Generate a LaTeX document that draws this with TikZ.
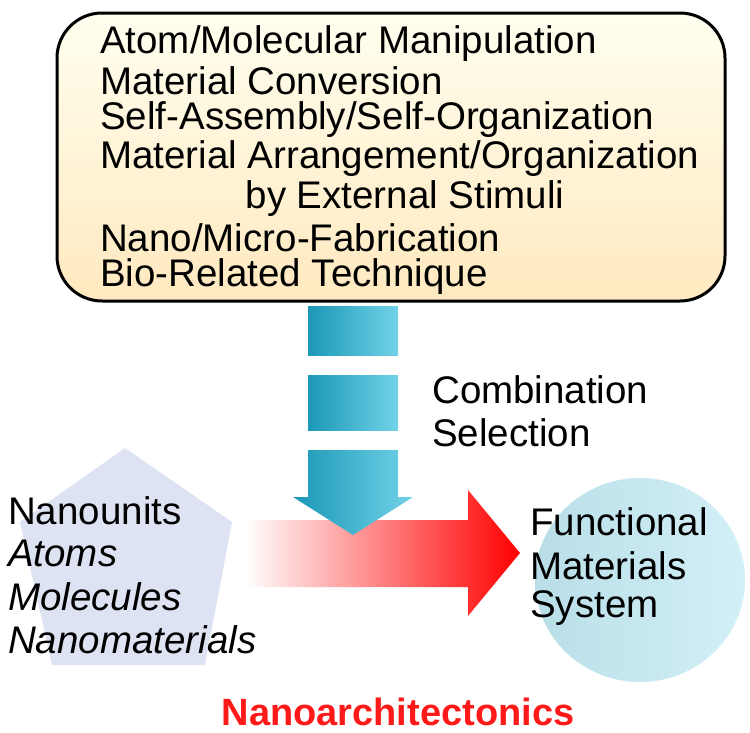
\documentclass[tikz,border=0pt]{standalone}
\usepackage{fontspec}
\setmainfont{Liberation Sans}
\begin{document}
\begin{tikzpicture}[x=1pt,y=-1pt,
  txt/.style={anchor=west,font=\fontsize{38.5}{40}\selectfont,inner sep=0pt},
  bluefill/.style={left color=blue1,right color=blue2,draw=none}]
\definecolor{blue1}{HTML}{1A98B6}
\definecolor{blue2}{HTML}{72D2E8}
\definecolor{pent}{HTML}{DDE3F2}
\definecolor{ell1}{HTML}{B9DEE8}
\definecolor{ell2}{HTML}{D3F0F7}
\useasboundingbox (0,0) rectangle (750,732);
% pentagon
\fill[fill=pent] (125,448) coordinate (p1) -- (232,522) -- (205,665) -- (52,665) -- (20,522) -- cycle;
% ellipse
\path[left color=ell1, right color=ell2] (640,580) coordinate (ec) ellipse (105 and 102);
% red arrow
\path[left color=white,right color=red] (245,520) -- (468,520) -- (468,490) -- (520,553) -- (468,616) -- (468,587) -- (245,587) -- cycle;
% top box
\node[draw=black,line width=3pt,rounded corners=45pt,top color=yellow!6!white,bottom color=yellow!30!orange!25!white,minimum width=668pt,minimum height=288pt] (box) at (391,157) {};
% blue arrow pieces
\path[bluefill] (308,306) rectangle (398,355);
\path[bluefill] (308,375) rectangle (398,430);
\path[bluefill] (308,450) -- (398,450) -- (398,497) -- (413,497) -- (353,535) coordinate (tip) -- (293,497) -- (308,497) -- cycle;
% texts
\node[txt] (t1) at (100,44) {Atom/Molecular Manipulation};
\node[txt] (t2) at (100,81) {Material Conversion};
\node[txt] (t3) at (100,120) {Self-Assembly/Self-Organization};
\node[txt] (t4) at (100,159) {Material Arrangement/Organization};
\node[txt,anchor=center] (t5) at (405,199) {by External Stimuli};
\node[txt] (t6) at (100,238) {Nano/Micro-Fabrication};
\node[txt] (t7) at (100,277) {Bio-Related Technique};
\node[txt] (c1) at (432,390) {Combination};
\node[txt] (c2) at (432,433) {Selection};
\node[txt] (n1) at (8,511) {Nanounits};
\node[txt] (n2) at (8,553) {\itshape Atoms};
\node[txt] (n3) at (8,597) {\itshape Molecules};
\node[txt] (n4) at (8,640) {\itshape Nanomaterials};
\node[txt] (f1) at (530,522) {Functional};
\node[txt] (f2) at (530,566) {Materials};
\node[txt] (f3) at (530,608) {System};
\node[txt,anchor=center,text=red!90!white,font=\fontsize{38}{40}\selectfont\bfseries] (nano) at (398,712) {Nanoarchitectonics};
\end{tikzpicture}
\end{document}
